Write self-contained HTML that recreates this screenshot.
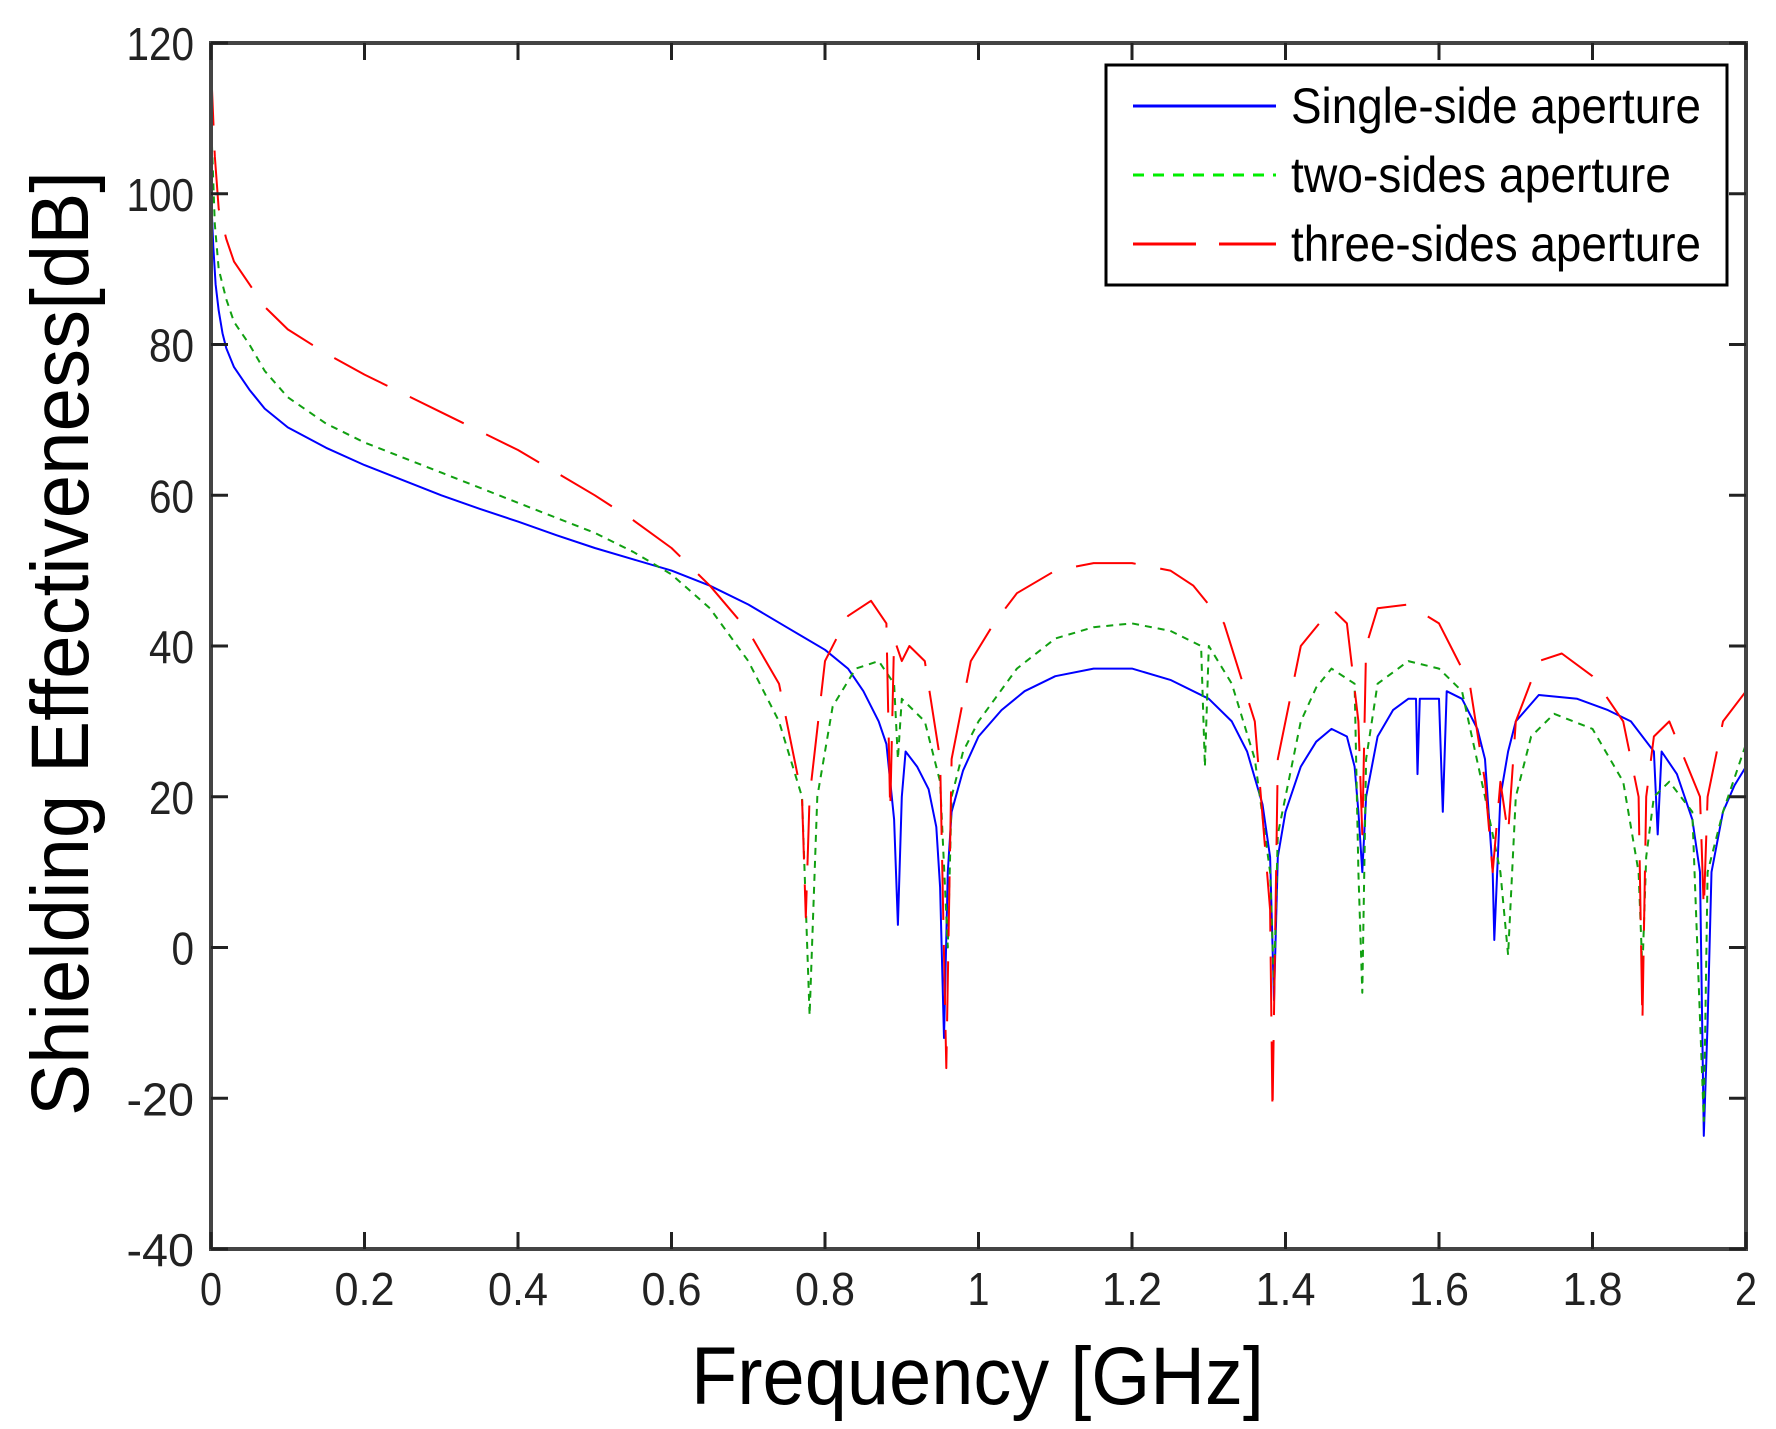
<!DOCTYPE html>
<html><head><meta charset="utf-8"><style>
html,body{margin:0;padding:0;background:#fff;}
svg text{font-family:"Liberation Sans",sans-serif;fill:#222;}
</style></head><body>
<svg id="s" width="1776" height="1424" viewBox="0 0 1776 1424" xmlns="http://www.w3.org/2000/svg">
<rect width="1776" height="1424" fill="#fff"/>
<g id="curves" fill="none" stroke-width="2"></g>
<rect x="211" y="43" width="1535" height="1206" fill="none" stroke="#444" stroke-width="4"/>
<g id="ticks" stroke="#222" stroke-width="3"></g>
<g id="labels" font-size="46"></g>
<rect x="1106" y="65" width="621" height="220" fill="#fff" stroke="#000" stroke-width="3"/>
<line x1="1133" y1="106" x2="1276" y2="106" stroke="#0000ff" stroke-width="3"/>
<line x1="1133" y1="175" x2="1276" y2="175" stroke="#00ee00" stroke-width="3" stroke-dasharray="11,9"/>
<line x1="1133" y1="244" x2="1276" y2="244" stroke="#ff0000" stroke-width="3" stroke-dasharray="63,23"/>
<text x="1291" y="123" font-size="50" textLength="410" lengthAdjust="spacingAndGlyphs" style="fill:#000">Single-side aperture</text>
<text x="1291" y="192" font-size="50" textLength="380" lengthAdjust="spacingAndGlyphs" style="fill:#000">two-sides aperture</text>
<text x="1291" y="261" font-size="50" textLength="410" lengthAdjust="spacingAndGlyphs" style="fill:#000">three-sides aperture</text>
<text x="691" y="1404" font-size="82" textLength="573" lengthAdjust="spacingAndGlyphs" style="fill:#000">Frequency [GHz]</text>
<text transform="translate(88,1116) rotate(-90)" x="0" y="0" font-size="82" textLength="945" lengthAdjust="spacingAndGlyphs" style="fill:#000">Shielding Effectiveness[dB]</text>
</svg>
<script>
var X=f=>211+767.5*f, Y=d=>947.5-7.5375*d;
var NS="http://www.w3.org/2000/svg";
function P(a,col,dash){var d="";for(var i=0;i<a.length;i+=2)d+=(i?"L":"M")+X(a[i]).toFixed(1)+" "+Y(a[i+1]).toFixed(1);
var p=document.createElementNS(NS,"path");p.setAttribute("d",d);p.setAttribute("stroke",col);p.setAttribute("stroke-linejoin","round");if(dash)p.setAttribute("stroke-dasharray",dash);document.getElementById("curves").appendChild(p);}
P([0,100,0.003,93,0.006,88,0.01,84.5,0.015,81.5,0.02,79.5,0.03,77,0.05,74,0.07,71.5,0.1,69,0.15,66.3,0.2,64,0.25,62,0.3,60,0.35,58.2,0.4,56.5,0.45,54.7,0.5,53,0.55,51.5,0.6,50,0.65,48,0.7,45.5,0.75,42.5,0.8,39.5,0.83,37,0.85,34,0.87,30,0.88,27,0.89,17,0.895,3,0.9,20,0.905,26,0.92,24,0.935,21,0.945,16,0.95,8,0.955,-12,0.96,10,0.965,18,0.98,23.5,1.0,28,1.03,31.5,1.06,34,1.1,36,1.15,37,1.2,37,1.25,35.5,1.3,33,1.33,30,1.35,26,1.37,19,1.38,12,1.385,-7,1.39,12,1.4,18,1.42,24,1.44,27.3,1.46,29,1.48,28,1.49,24,1.495,18,1.5,10,1.505,20,1.52,28,1.54,31.5,1.56,33,1.57,33,1.572,23,1.575,33,1.6,33,1.605,18,1.61,34,1.63,33,1.65,29,1.66,25,1.67,10,1.672,1,1.68,20,1.69,26,1.7,30,1.73,33.5,1.78,33,1.82,31.5,1.85,30,1.88,26,1.885,15,1.89,26,1.91,23,1.93,17,1.94,10,1.945,-25,1.95,-10,1.955,10,1.97,18,1.985,21.5,2.0,24],"#0000ff");
P([0,110,0.005,96,0.01,90,0.02,86,0.03,83,0.05,80,0.07,76.5,0.1,73,0.15,69.5,0.2,67,0.3,63,0.4,59,0.5,55,0.55,52.5,0.6,49.5,0.65,45,0.7,38,0.74,30,0.77,20,0.78,-9,0.79,20,0.81,32,0.84,37,0.87,38,0.89,35,0.895,25,0.9,33,0.93,30,0.95,22,0.96,0,0.965,20,0.98,26,1.0,30,1.05,37,1.1,41,1.15,42.5,1.2,43,1.25,42,1.29,40,1.295,24,1.3,40,1.33,35,1.36,25,1.38,10,1.385,-5,1.39,15,1.42,30,1.44,34.5,1.46,37,1.49,35,1.495,10,1.5,-6,1.505,25,1.52,35,1.56,38,1.6,37,1.63,34,1.66,20,1.68,10,1.69,-1,1.7,20,1.72,28,1.75,31,1.8,29,1.84,22,1.86,10,1.865,-3,1.87,12,1.88,20,1.9,22,1.93,18,1.945,-23,1.95,10,1.97,18,2.0,27],"#11a011","7,6");
P([0,117,0.005,105,0.01,98,0.02,94,0.03,91,0.05,88,0.07,85,0.1,82,0.15,78.8,0.2,76,0.3,71,0.4,66,0.5,60,0.55,56.7,0.6,53,0.65,48,0.7,42,0.74,35,0.77,20,0.775,4,0.78,20,0.8,38,0.83,44,0.86,46,0.88,43,0.885,18,0.89,41,0.9,38,0.91,40,0.93,38,0.95,25,0.958,-16,0.965,25,0.99,38,1.02,43,1.05,47,1.1,50,1.15,51,1.2,51,1.25,50,1.28,48,1.32,43,1.36,30,1.38,5,1.383,-22,1.39,25,1.42,40,1.46,45,1.48,43,1.495,30,1.5,15,1.505,40,1.52,45,1.56,45.5,1.6,43,1.64,35,1.66,22,1.67,10,1.68,22,1.69,15,1.7,30,1.73,38,1.76,39,1.8,36,1.84,30,1.86,20,1.865,-10,1.87,20,1.88,28,1.9,30,1.92,25,1.94,20,1.945,5,1.95,20,1.97,30,2.0,34],"#ff0000","60,25");
var t=document.getElementById("ticks"),L=document.getElementById("labels");
function ln(a,b,c,d){var l=document.createElementNS(NS,"line");l.setAttribute("x1",a);l.setAttribute("y1",b);l.setAttribute("x2",c);l.setAttribute("y2",d);t.appendChild(l);}
function tx(x,y,s,anchor,w){var e=document.createElementNS(NS,"text");e.setAttribute("x",x);e.setAttribute("y",y);e.setAttribute("text-anchor",anchor);e.setAttribute("textLength",w);e.setAttribute("lengthAdjust","spacingAndGlyphs");e.textContent=s;L.appendChild(e);}
for(var i=0;i<=10;i++){var f=i*0.2,x=X(f);ln(x,1249,x,1232);ln(x,43,x,60);
var s=i==0?"0":(i==5?"1":(i==10?"2":f.toFixed(1)));tx(x,1305,s,"middle",s.length==1?22:60);}
for(var d=-40;d<=120;d+=20){var y=Y(d);ln(211,y,228,y);ln(1746,y,1729,y);
var s=String(d);tx(194,y+17,s,"end",s.length*22.5);}
</script>
</body></html>
